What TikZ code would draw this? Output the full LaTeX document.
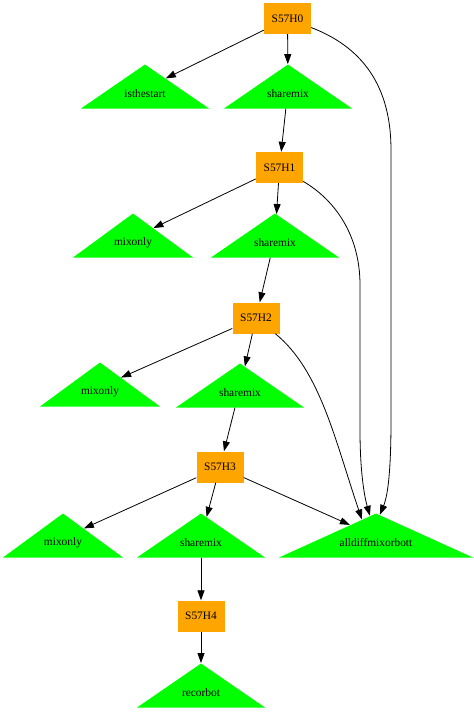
\documentclass[tikz,border=0pt]{standalone}
\usepackage{fontspec}
\setmainfont{Liberation Serif}
\usetikzlibrary{arrows.meta,shapes.geometric,calc}
\definecolor{boxorange}{RGB}{255,165,0}
\definecolor{trigreen}{RGB}{0,255,0}

\begin{document}
\begin{tikzpicture}[x=1pt,y=-1pt,>={Triangle[length=10pt,width=7pt]},
    font=\fontsize{11.4}{13}\selectfont,
    hbox/.style={fill=boxorange,minimum width=47pt,minimum height=31pt,inner sep=0pt},
    tri/.style={isosceles triangle,isosceles triangle stretches,shape border rotate=90,
      fill=trigreen,inner sep=0pt,minimum height=44pt,anchor=apex},
    edge/.style={->,line width=0.8pt}]
  \useasboundingbox (0,0) rectangle (474,724);
  % the steps
  \node[hbox] (h0) at (287.5,18.5) {S57H0};
  \node[hbox] (h1) at (279.5,167.5) {S57H1};
  \node[hbox] (h2) at (256,318) {S57H2};
  \node[hbox] (h3) at (220,467) {S57H3};
  \node[hbox] (h4) at (201,616) {S57H4};
  % the triangles, labels sit a little above the base
  \node[tri,minimum width=128pt] (t0) at (145,64) {};
  \node[tri,minimum width=128pt] (s0) at (288,64) {};
  \node[tri,minimum width=120pt] (m1) at (133,213) {};
  \node[tri,minimum width=128pt] (s1) at (275,213) {};
  \node[tri,minimum width=120pt] (m2) at (100,362) {};
  \node[tri,minimum width=128pt] (s2) at (240,363) {};
  \node[tri,minimum width=120pt] (m3) at (63,513) {};
  \node[tri,minimum width=128pt] (s3) at (201,513) {};
  \node[tri,minimum width=194pt] (ta) at (376,513) {};
  \node[tri,minimum width=128pt] (rb) at (201,663) {};
  \node (lt0) at ([yshift=15pt]t0.lower side) {isthestart};
  \node (ls0) at ([yshift=15pt]s0.lower side) {sharemix};
  \node (lm1) at ([yshift=15pt]m1.lower side) {mixonly};
  \node (ls1) at ([yshift=15pt]s1.lower side) {sharemix};
  \node (lm2) at ([yshift=15pt]m2.lower side) {mixonly};
  \node (ls2) at ([yshift=15pt]s2.lower side) {sharemix};
  \node (lm3) at ([yshift=15pt]m3.lower side) {mixonly};
  \node (ls3) at ([yshift=15pt]s3.lower side) {sharemix};
  \node (lta) at ([yshift=15pt]ta.lower side) {alldiffmixorbott};
  \node (lrb) at ([yshift=15pt]rb.lower side) {recorbot};
  % edges
  \foreach \a/\b in {h0/t0,h0/s0,s0/h1,h1/m1,h1/s1,s1/h2,h2/m2,h2/s2,s2/h3,
                     h3/m3,h3/s3,h3/ta,s3/h4,h4/rb}
    \draw[edge] (\a) -- (\b);
  \draw[edge] (h0) .. controls (370,50) and (391,95) .. (391,150) -- (391,420)
              .. controls (391,470) and (388,495) .. ($(ta.apex)!0.04!(ta.right corner)$);
  \draw[edge] (h1) .. controls (335,200) and (360,235) .. (360,285) -- (360,430)
              .. controls (360,470) and (364,495) .. ($(ta.apex)!0.062!(ta.left corner)$);
  \draw[edge] (h2) .. controls (320,370) and (335,440) .. ($(ta.apex)!0.144!(ta.left corner)$);
\end{tikzpicture}
\end{document}
